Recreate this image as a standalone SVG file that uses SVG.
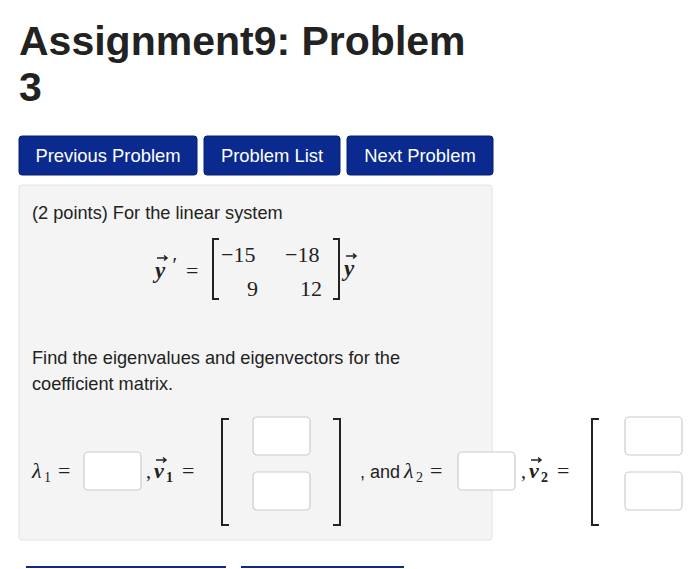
<svg xmlns="http://www.w3.org/2000/svg" width="700" height="569" viewBox="0 0 700 569">
<style>
.s{font-family:"Liberation Sans",Arial,sans-serif;fill:#222}
.m{font-family:"Liberation Serif","Times New Roman",serif;fill:#222}
.btn{fill:#0b2a8f;stroke:#06206e}
.bt{font-family:"Liberation Sans",Arial,sans-serif;font-size:18.4px;fill:#fff;text-anchor:middle}
.box{fill:#fff;stroke:#ccc;stroke-width:1.2}
.br{fill:none;stroke:#222;stroke-width:2}
.ar{fill:none;stroke:#222;stroke-width:1.5}
</style>
<rect width="700" height="569" fill="#fff"/>
<g id="title"><text class="s" x="19" y="55" font-size="41" font-weight="bold" fill="#111">Assignment9: Problem</text>
<text class="s" x="19" y="101" font-size="41" font-weight="bold">3</text></g>
<g id="buttons">
<rect class="btn" x="19" y="136" width="178" height="39" rx="3"/><text class="bt" x="108" y="162">Previous Problem</text>
<rect class="btn" x="204" y="136" width="136" height="39" rx="3"/><text class="bt" x="272" y="162">Problem List</text>
<rect class="btn" x="347" y="136" width="146" height="39" rx="3"/><text class="bt" x="420" y="162">Next Problem</text>
</g>
<g id="panel"><rect x="19" y="185" width="473" height="355" rx="3" fill="#f4f4f4" stroke="#e2e2e2"/></g>
<g id="text">
<text class="s" x="32" y="219" font-size="18.2">(2 points) For the linear system</text>
<text class="m" x="155" y="278" font-size="23" font-style="italic" font-weight="bold">y</text>
<text class="m" x="171" y="272" font-size="22" font-style="italic">′</text>
<text class="m" x="186" y="278" font-size="22">=</text>
<path class="br" d="M219 239h-6v60h6M333 239h6v60h-6" stroke-width="1.5"/>
<text class="m" x="221" y="262" font-size="22">−15</text>
<text class="m" x="285" y="262" font-size="22">−18</text>
<text class="m" x="247" y="296" font-size="22">9</text>
<text class="m" x="300" y="296" font-size="22">12</text>
<text class="m" x="344" y="276" font-size="23" font-style="italic" font-weight="bold">y</text>
<text class="s" x="32" y="364" font-size="18.2">Find the eigenvalues and eigenvectors for the</text>
<text class="s" x="32" y="390" font-size="18.2">coefficient matrix.</text>
<text class="m" x="32" y="478" font-size="22" font-style="italic">λ</text><text class="m" x="44" y="482" font-size="14">1</text>
<text class="m" x="58" y="478" font-size="22">=</text>
<text class="m" x="146" y="478" font-size="20">,</text>
<text class="m" x="154" y="478" font-size="22" font-style="italic" font-weight="bold">v</text>
<text class="m" x="166" y="482" font-size="14" font-weight="bold">1</text>
<text class="m" x="182" y="478" font-size="22">=</text>
<text class="s" x="360" y="478" font-size="18">, and</text>
<text class="m" x="404" y="478" font-size="22" font-style="italic">λ</text><text class="m" x="416" y="482" font-size="14">2</text>
<text class="m" x="430" y="478" font-size="22">=</text>
<text class="m" x="521" y="478" font-size="20">,</text>
<text class="m" x="529" y="478" font-size="22" font-style="italic" font-weight="bold">v</text>
<text class="m" x="541" y="482" font-size="14" font-weight="bold">2</text>
<text class="m" x="557" y="478" font-size="22">=</text>
</g>
<g id="arrows" class="ar">
<path d="M157 258h10M164 255.5l3 2.5-3 2.5"/>
<path d="M346 256h10M353 253.5l3 2.5-3 2.5"/>
<path d="M156 460h10M163 457.5l3 2.5-3 2.5"/>
<path d="M531 460h10M538 457.5l3 2.5-3 2.5"/>
</g>
<g id="inputs">
<rect class="box" x="84" y="452" width="57" height="38" rx="4"/>
<path class="br" d="M229 419h-7v106h7M333 419h7v106h-7"/>
<rect class="box" x="253" y="417" width="57" height="38" rx="4"/>
<rect class="box" x="253" y="472" width="57" height="38" rx="4"/>
<rect class="box" x="458" y="452" width="57" height="38" rx="4"/>
<path class="br" d="M599 419h-7v106h7"/>
<rect class="box" x="625" y="417" width="57" height="38" rx="4"/>
<rect class="box" x="625" y="472" width="57" height="38" rx="4"/>
</g>
<g id="bottom"><path d="M26 567h200M241 567h163" stroke="#0b2a8f" stroke-width="2"/></g>
</svg>
